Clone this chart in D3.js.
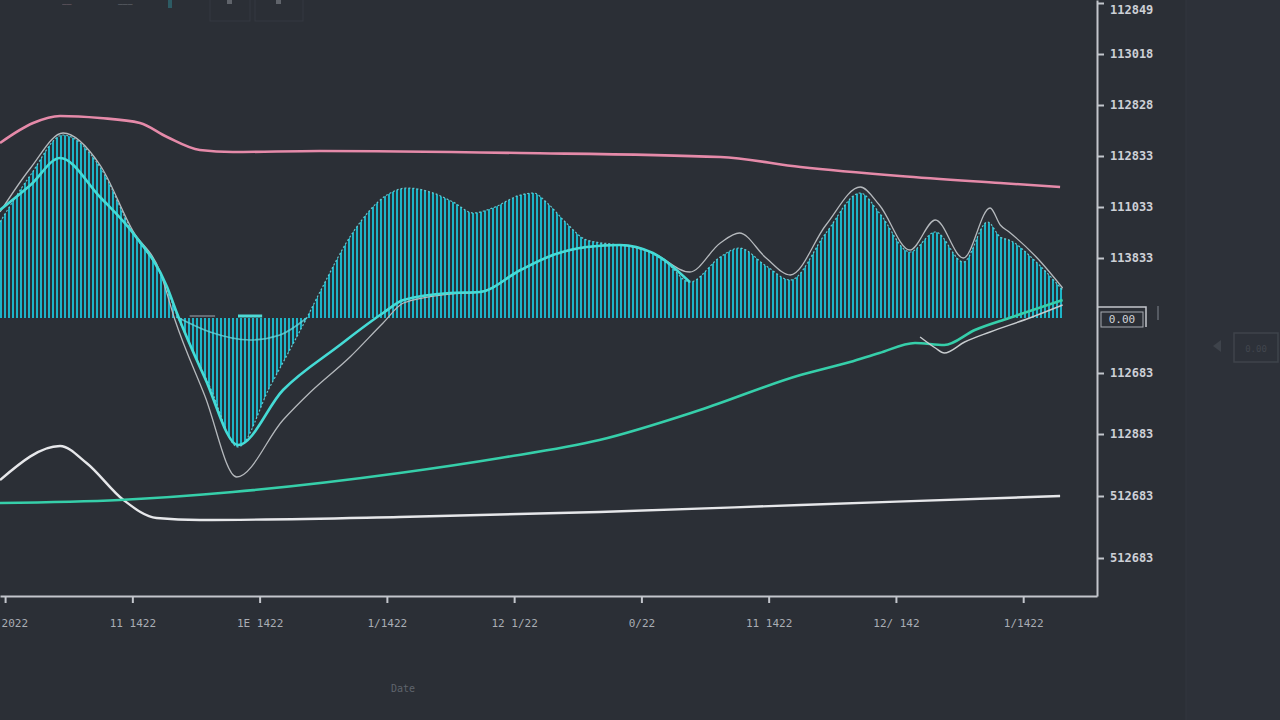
<!DOCTYPE html>
<html lang="en">
<head>
    <meta charset="UTF-8">
    <title>Oscillator</title>
    <script src="https://d3js.org/d3.v7.min.js"></script>
    <style>
        body {margin: 0; background: #2b2f36;}
        svg {display: block;}
        text {font-family: "DejaVu Sans Mono", monospace;}
    </style>
</head>
<body>
<script>
    const width = 1280;
    const height = 720;

    // ---- data (x in periods, y in oscillator units, 0 = zero line)
    const histogram = [
        [-0.4, 96], [2.0, 143], [4.56, 183], [7.46, 151], [10.05, 85], [12.18, 45], [13.6, 0],
        [16.1, -69], [18.3, -129], [20.8, -69], [23.7, 0], [24.7, 25], [27.3, 85], [30.0, 123],
        [31.6, 130], [33.4, 126], [35.2, 116], [36.8, 105], [38.3, 110], [40.5, 123], [41.5, 125],
        [42.6, 115], [44.1, 95], [45.7, 78], [48.3, 73], [49.9, 70], [52.0, 55], [53.8, 36],
        [56.2, 61], [57.7, 70], [59.8, 52], [61.7, 38], [64.5, 85], [67.2, 125], [68.7, 105],
        [71.1, 66], [73.1, 86], [75.3, 56], [77.2, 96], [78.2, 81], [78.9, 78], [81.1, 55], [83.1, 28]
    ];
    const macdLine = [
        [-0.4, 106], [2.0, 150], [4.56, 185], [7.46, 153], [10.05, 87], [12.18, 46], [13.35, -2],
        [15.7, -78], [18.2, -159], [21.84, -102], [24.0, -74], [27.1, -39], [29.7, -5], [31.3, 15],
        [34.95, 24], [37.3, 26], [40.5, 48], [43.05, 63], [45.7, 71], [48.3, 73], [50.9, 65],
        [53.8, 46], [56.2, 75], [57.7, 85], [59.8, 60], [61.7, 43], [64.5, 93], [67.2, 131],
        [68.7, 113], [71.1, 68], [73.1, 98], [75.3, 60], [77.4, 110], [78.2, 93], [78.9, 86],
        [81.1, 60], [83.1, 30]
    ];
    const signalLine = [
        [-0.4, 108], [2.0, 133], [4.32, 160], [7.46, 121], [10.05, 85], [12.73, 31], [13.5, 5],
        [15.7, -60], [18.3, -127], [21.84, -72], [26.1, -29], [29.7, 5], [31.3, 18], [34.95, 25],
        [37.3, 26], [40.5, 48], [43.05, 63], [45.7, 71], [48.3, 73], [50.9, 65], [53.8, 36]
    ];
    const troughLine = [[13.5, 1], [16.1, -14], [19.25, -22], [21.6, -17], [23.7, 0]];
    const upperBand = [
        [-0.4, 175], [2.2, 195], [4.32, 202], [7.46, 200], [10.6, 195], [12.73, 181], [15.3, 168],
        [17.9, 166], [24.7, 167], [40.5, 165], [56.2, 161], [62.5, 151], [70.3, 142], [78.2, 135],
        [82.9, 131]
    ];
    const trendLine = [
        [-0.4, -185], [9.0, -182], [17.9, -174], [31.0, -155], [38.9, -140], [46.7, -122],
        [54.6, -92], [62.5, -57], [66.4, -44], [68.7, -35], [71.5, -25], [73.8, -27], [76.2, -12],
        [78.9, 0], [83.1, 18]
    ];
    const trendShadow = [
        [71.9, -19], [73.1, -30], [73.8, -35], [75.4, -24], [77.4, -14], [80.5, 0], [83.1, 13]
    ];
    const lowerBand = [
        [-0.4, -162], [4.32, -128], [6.4, -145], [9.3, -182], [11.9, -200], [15.3, -202],
        [31.0, -199], [46.7, -194], [62.5, -187], [82.9, -178]
    ];
    const zeroMarks = [[[14.5, 2], [16.5, 2]], [[18.3, 2], [20.2, 2]]];

    const xTicks = [0, 10, 20, 30, 40, 50, 60, 70, 80];
    const xLabels = ["2022", "11 1422", "1E 1422", "1/1422", "12 1/22", "0/22", "11 1422", "12/ 142", "1/1422"];
    const yTicks = [315, 264, 213, 162, 111, 60, -55, -116, -178, -240];
    const yLabels = ["112849", "113018", "112828", "112833", "111033", "113833", "112683", "112883", "512683", "512683"];

    const svg = d3.select("body").append("svg")
            .attr("width", width).attr("height", height);

    const x = d3.scaleLinear().domain([-0.4, 85.8]).range([0, 1097]);
    const y = d3.scaleLinear().domain([318, -278]).range([0, 596]);

    // background + right side panel
    svg.append("rect").attr("width", width).attr("height", height).style("fill", "#2b2f36");
    svg.append("rect").attr("x", 1186).attr("width", 94).attr("height", height).style("fill", "#2d3139");
    svg.append("line").attr("x1", 1186).attr("x2", 1186).attr("y1", 0).attr("y2", height)
            .style("stroke", "#33373f").style("stroke-width", 1);

    // stripe pattern for histogram bars
    const defs = svg.append("defs");
    const pat = defs.append("pattern").attr("id", "bars")
            .attr("patternUnits", "userSpaceOnUse").attr("width", 4).attr("height", 10);
    pat.append("rect").attr("width", 2).attr("height", 10).style("fill", "#1db4c7");

    const line = d3.line().x(d => x(d[0])).y(d => y(d[1])).curve(d3.curveMonotoneX);
    const area = d3.area().x(d => x(d[0])).y0(y(0)).y1(d => y(d[1])).curve(d3.curveMonotoneX);

    drawLegend();
    drawHistogram();
    drawLines();
    drawAxes();

    function drawLegend() {
        const g = svg.append("g").attr("class", "legend").style("opacity", 0.55);
        g.append("text").attr("x", 62).attr("y", 7).style("font-size", 8).style("fill", "#9a7f8c").text("\u2014\u2014");
        g.append("text").attr("x", 118).attr("y", 7).style("font-size", 8).style("fill", "#8b9096").text("\u2014\u2014\u2014");
        g.append("rect").attr("x", 168).attr("y", -4).attr("width", 4).attr("height", 12).style("fill", "#2f7f8a");
        [[210, 40], [255, 48]].forEach(b => {
            g.append("rect").attr("x", b[0]).attr("y", -2).attr("width", b[1]).attr("height", 23)
                    .style("fill", "none").style("stroke", "#3e434b");
            g.append("rect").attr("x", b[0] + b[1] / 2 - 3).attr("y", 0).attr("width", 5).attr("height", 4)
                    .style("fill", "#8d9198");
        });
    }

    function drawHistogram() {
        svg.append("path").datum(histogram)
                .attr("d", area)
                .style("fill", "url(#bars)");
        svg.append("path").datum(histogram)
                .attr("d", line)
                .style("fill", "none")
                .style("stroke", "#6fdbe2")
                .style("stroke-width", 1.2)
                .style("stroke-dasharray", "2,2")
                .style("opacity", 0.85);
        svg.append("path").datum(troughLine)
                .attr("d", line)
                .style("fill", "none")
                .style("stroke", "#63d3d8")
                .style("stroke-width", 1.6)
                .style("opacity", 0.8);
        svg.selectAll("path.zmark").data(zeroMarks).enter()
                .append("path").attr("class", "zmark")
                .attr("d", d3.line().x(d => x(d[0])).y(d => y(d[1])))
                .style("stroke", (d, i) => i ? "#4fd9d4" : "#7b8088")
                .style("stroke-width", (d, i) => i ? 3 : 1.5);
    }

    function drawLines() {
        const series = [
            {data: upperBand, color: "#e58aa9", w: 2.6},
            {data: lowerBand, color: "#e6e7ea", w: 2.4},
            {data: trendLine, color: "#36cfaa", w: 2.6},
            {data: trendShadow, color: "#c8cccf", w: 1.4},
            {data: macdLine, color: "#b5b9bd", w: 1.3},
            {data: signalLine, color: "#45dbd6", w: 2.6}
        ];
        svg.selectAll("path.series").data(series).enter()
                .append("path").attr("class", "series")
                .attr("d", d => line(d.data))
                .style("fill", "none")
                .style("stroke", d => d.color)
                .style("stroke-width", d => d.w)
                .style("stroke-linejoin", "round");
    }

    function drawAxes() {
        const xAxis = svg.append("g").attr("transform", `translate(0,${y(-278)})`)
                .call(d3.axisBottom(x).tickValues(xTicks).tickFormat((d, i) => xLabels[i])
                        .tickSize(7).tickSizeOuter(0).tickPadding(16));
        const yAxis = svg.append("g").attr("transform", `translate(${x(85.8)},0)`)
                .call(d3.axisRight(y).tickValues(yTicks).tickFormat((d, i) => yLabels[i])
                        .tickSize(7).tickSizeOuter(0).tickPadding(6));
        [xAxis, yAxis].forEach(a => {
            a.select(".domain").style("stroke", "#c3c6cc").style("stroke-width", 2);
            a.selectAll(".tick line").style("stroke", "#c3c6cc").style("stroke-width", 2);
        });
        xAxis.selectAll("text").style("fill", "#a9adb4").style("font-size", 11);
        // first label sits on the left edge, keep it inside the page
        xAxis.select(".tick text").attr("text-anchor", "start").attr("x", -x(0) + 1);
        yAxis.selectAll("text").style("fill", "#cdd0d6").style("font-size", 12).style("font-weight", "bold");
        // top label sits on the top edge, nudge it inside
        yAxis.select(".tick text").attr("dy", "0.9em");

        // zero-line tag
        const tag = svg.append("g").attr("transform", `translate(${x(85.8)},${y(0)})`);
        tag.append("path").attr("d", "M0,-11 H49 V9").style("fill", "none")
                .style("stroke", "#c3c6cc").style("stroke-width", 1.5);
        tag.append("rect").attr("x", 4).attr("y", -6).attr("width", 42).attr("height", 15)
                .style("fill", "#2b2f36").style("stroke", "#a8acb2").style("stroke-width", 1);
        tag.append("text").attr("x", 25).attr("y", 5).attr("text-anchor", "middle")
                .style("font-size", 11).style("fill", "#d0d3d8").text("0.00");
        tag.append("line").attr("x1", 61).attr("x2", 61).attr("y1", -12).attr("y2", 2)
                .style("stroke", "#555a62").style("stroke-width", 2);

        // side marker
        const side = svg.append("g").style("opacity", 0.6);
        side.append("rect").attr("x", 1234).attr("y", 333).attr("width", 44).attr("height", 29)
                .style("fill", "none").style("stroke", "#4b5058").style("stroke-width", 1.5);
        side.append("text").attr("x", 1256).attr("y", 352).attr("text-anchor", "middle")
                .style("font-size", 9).style("fill", "#4f545c").text("0.00");
        side.append("path").attr("d", "M1213,346 L1221,340 V352 Z").style("fill", "#4a4f57");

        svg.append("text").attr("x", 403).attr("y", 692).attr("text-anchor", "middle")
                .style("font-size", 10).style("fill", "#5f646c").text("Date");
    }
</script>

</body>
</html>
